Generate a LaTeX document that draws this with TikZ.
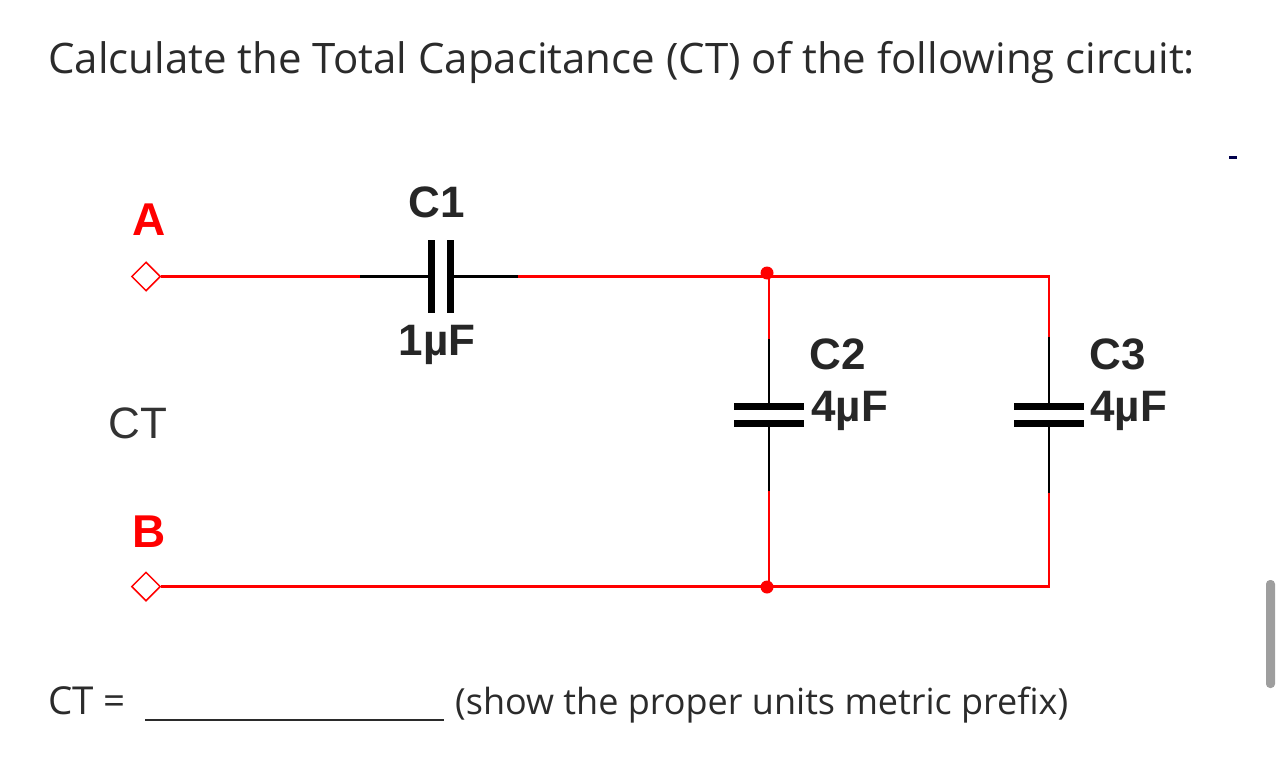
\documentclass[tikz,border=0pt]{standalone}
\usepackage{fontspec}
\setmainfont{Open Sans}
\newfontfamily\schemfont{Liberation Sans}
\usetikzlibrary{shapes.geometric}
\definecolor{txt}{HTML}{2B2B2B}
\tikzset{
  x=1pt, y=-1pt,
  wire/.style={draw=red, line width=2.2pt},
  lead/.style={draw=black, line width=2.2pt},
  port/.style={draw=red, line width=1.5pt, fill=white, diamond, minimum width=29pt, minimum height=29pt, inner sep=0pt},
  dot/.style={circle, fill=red, minimum size=13pt, inner sep=0pt},
  vplate/.style={rectangle, fill=black, minimum width=7pt, minimum height=72pt, inner sep=0pt},
  hplate/.style={rectangle, fill=black, minimum width=70pt, minimum height=7pt, inner sep=0pt},
  lab/.style={font=\schemfont\fontsize{44}{44}\selectfont\bfseries, text=black!85, inner sep=0pt},
  ptlab/.style={font=\schemfont\fontsize{46}{46}\selectfont\bfseries, text=red, inner sep=0pt},
  say/.style={font=\fontsize{36}{36}\selectfont, text=txt, inner sep=0pt}
}
\begin{document}
\begin{tikzpicture}
        \useasboundingbox (0,0) rectangle (1284,759);
        \node [say, font=\fontsize{42}{42}\selectfont, anchor=base west] (title) at (48,74) {Calculate the Total Capacitance (CT) of the following circuit:};
        \node [ptlab] (lA) at (149,220) {A};
        \node [port] (A) at (146,276.5) {};
        \node [ptlab] (lB) at (149,532) {B};
        \node [port] (B) at (146,586.5) {};
        \node [font=\schemfont\fontsize{44}{44}\selectfont, text=black!80, inner sep=0pt] (CT) at (138,423) {CT};
        % top capacitor
        \node [vplate] (p1) at (431.5,276.5) {};
        \node [vplate] (p2) at (450.5,276.5) {};
        \node [lab] (c1) at (437,202) {C1};
        \node [lab] (v1) at (437,345) {1µF};
        \coordinate (a1) at (360,276.5);
        \coordinate (b1) at (518,276.5);
        % middle capacitor
        \node [hplate] (p3) at (769,406.5) {};
        \node [hplate] (p4) at (769,423.5) {};
        \node [lab] (c2) at (838,354) {C2};
        \node [lab, anchor=west] (v2) at (811,411) {4µF};
        \node [dot] (n1) at (767,273) {};
        \node [dot] (n2) at (767,587) {};
        \coordinate (a2) at (769,339);
        \coordinate (b2) at (769,491);
        % right capacitor
        \node [hplate] (p5) at (1049,406.5) {};
        \node [hplate] (p6) at (1049,423.5) {};
        \node [lab] (c3) at (1118,354) {C3};
        \node [lab, anchor=west] (v3) at (1090,411) {4µF};
        \coordinate (a3) at (1049,337);
        \coordinate (b3) at (1049,493);
        \coordinate (t3) at (1049,276.5);
        \coordinate (d3) at (1049,586.5);
        % wires
        \draw [wire] (A.east) -- (a1);
        \draw [lead] (a1) -- (p1);
        \draw [lead] (p2) -- (b1);
        \draw [wire] (b1) -- (t3) -- (a3);
        \draw [lead] (a3) -- (p5);
        \draw [lead] (p6) -- (b3);
        \draw [wire] (b3) -- (d3) -- (B.east);
        \draw [wire] (769,276.5) -- (a2);
        \draw [lead] (a2) -- (p3);
        \draw [lead] (p4) -- (b2);
        \draw [wire] (b2) -- (769,586.5);
        % answer line
        \node [say, font=\fontsize{38.5}{38.5}\selectfont, anchor=base west] (ans) at (48,714) {CT =};
        \coordinate (u1) at (145,720);
        \coordinate (u2) at (444,720);
        \draw [draw=txt, line width=2.4pt] (u1) -- (u2);
        \node [say, anchor=base west] (note) at (455,714) {(show the proper units metric prefix)};
        % leftovers of the screenshot
        \node [rectangle, fill=black!70!blue, minimum width=8pt, minimum height=3pt, inner sep=0pt] (tick) at (1233,157.5) {};
        \node [rectangle, rounded corners=4pt, fill=black!38, minimum width=9pt, minimum height=108pt, inner sep=0pt] (bar) at (1270.5,634) {};
      \end{tikzpicture}
\end{document}
